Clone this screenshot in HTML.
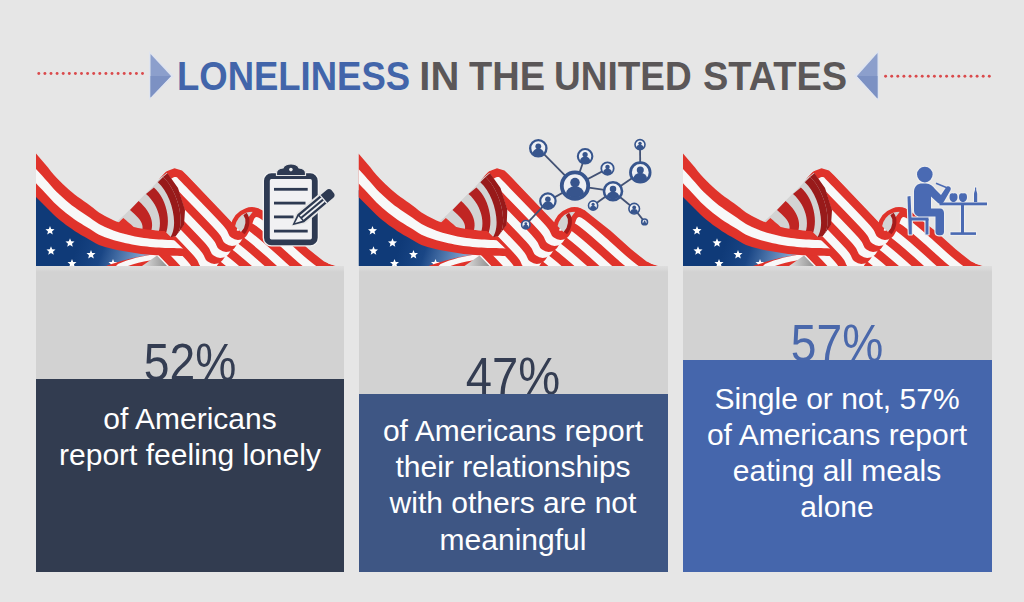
<!DOCTYPE html>
<html><head><meta charset="utf-8">
<style>
html,body{margin:0;padding:0;}
body{width:1024px;height:602px;background:#e6e6e6;position:relative;overflow:hidden;font-family:"Liberation Sans",sans-serif;}
.abs{position:absolute;}
.w{position:absolute;top:56px;font-size:40px;font-weight:bold;line-height:40px;white-space:nowrap;transform-origin:0 0;}
.gray{position:absolute;top:266px;height:306px;background:linear-gradient(#dddddd 0px,#d9d9d9 3px,#d2d2d2 6px,#d2d2d2 100%);}
.box{position:absolute;bottom:30px;}
.pct{position:absolute;font-size:51px;line-height:51px;white-space:nowrap;transform-origin:50% 0;text-align:center;width:200px;}
.txt{position:absolute;color:#fff;font-size:30px;line-height:36px;text-align:center;white-space:nowrap;width:320px;}
svg{position:absolute;overflow:visible;}
</style></head><body>

<!-- title dots and arrows -->
<svg class="abs" style="left:0;top:0" width="1024" height="120">
  <g fill="#da4a4c">
    <circle cx="38.8" cy="73.5" r="1.45"/><circle cx="44.9" cy="73.5" r="1.45"/><circle cx="51" cy="73.5" r="1.45"/><circle cx="57.1" cy="73.5" r="1.45"/><circle cx="63.2" cy="73.5" r="1.45"/><circle cx="69.3" cy="73.5" r="1.45"/><circle cx="75.4" cy="73.5" r="1.45"/><circle cx="81.5" cy="73.5" r="1.45"/><circle cx="87.6" cy="73.5" r="1.45"/><circle cx="93.7" cy="73.5" r="1.45"/><circle cx="99.8" cy="73.5" r="1.45"/><circle cx="105.9" cy="73.5" r="1.45"/><circle cx="112" cy="73.5" r="1.45"/><circle cx="118.1" cy="73.5" r="1.45"/><circle cx="124.2" cy="73.5" r="1.45"/><circle cx="130.3" cy="73.5" r="1.45"/><circle cx="136.4" cy="73.5" r="1.45"/><circle cx="142.5" cy="73.5" r="1.45"/>
    <circle cx="885.6" cy="76.2" r="1.45"/><circle cx="891.7" cy="76.2" r="1.45"/><circle cx="897.8" cy="76.2" r="1.45"/><circle cx="903.9" cy="76.2" r="1.45"/><circle cx="910" cy="76.2" r="1.45"/><circle cx="916.1" cy="76.2" r="1.45"/><circle cx="922.2" cy="76.2" r="1.45"/><circle cx="928.3" cy="76.2" r="1.45"/><circle cx="934.4" cy="76.2" r="1.45"/><circle cx="940.5" cy="76.2" r="1.45"/><circle cx="946.6" cy="76.2" r="1.45"/><circle cx="952.7" cy="76.2" r="1.45"/><circle cx="958.8" cy="76.2" r="1.45"/><circle cx="964.9" cy="76.2" r="1.45"/><circle cx="971" cy="76.2" r="1.45"/><circle cx="977.1" cy="76.2" r="1.45"/><circle cx="983.2" cy="76.2" r="1.45"/><circle cx="989.3" cy="76.2" r="1.45"/>
  </g>
  <polygon points="149,51 174,76 149,100" fill="#dfe4ef"/>
  <polygon points="150.5,54 171,76 150.5,97.5" fill="#8c9fcc"/>
  <polygon points="150.5,76 171,76 150.5,97.5" fill="#7c91c3"/>
  <polygon points="879,50 854,76 879,101" fill="#dfe4ef"/>
  <polygon points="877.5,53 857,76 877.5,98.5" fill="#8c9fcc"/>
  <polygon points="877.5,76 857,76 877.5,98.5" fill="#7c91c3"/>
</svg>

<div class="w" style="left:176.9px;color:#4265aa;transform:scaleX(0.912)">LONELINESS</div>
<div class="w" style="left:419.3px;color:#5b5758;">IN</div>
<div class="w" style="left:469.1px;color:#5b5758;transform:scaleX(0.95)">THE</div>
<div class="w" style="left:554px;color:#5b5758;transform:scaleX(0.924)">UNITED</div>
<div class="w" style="left:702.7px;color:#5b5758;transform:scaleX(0.949)">STATES</div>

<!-- cards -->
<div class="gray" style="left:36px;width:308px;"></div>
<div class="gray" style="left:358.5px;width:309.5px;"></div>
<div class="gray" style="left:683px;width:308.5px;"></div>

<!-- FLAGS -->
<svg style="left:0;top:0" width="1024" height="270"><defs>
<linearGradient id="cantonG" gradientUnits="userSpaceOnUse" x1="45" y1="235" x2="125" y2="262">
<stop offset="0" stop-color="#0f3a78"/><stop offset="0.3" stop-color="#1a4685"/><stop offset="0.7" stop-color="#6f95c4"/><stop offset="1" stop-color="#c9d7e8"/>
</linearGradient>
<linearGradient id="shadeG" x1="0" y1="0" x2="1" y2="0"><stop offset="0" stop-color="#e0e0e0"/><stop offset="1" stop-color="#909090"/></linearGradient>
<pattern id="patC" patternUnits="userSpaceOnUse" width="40" height="16.5" patternTransform="translate(145,172) rotate(46)">
<rect x="0" y="0" width="40" height="16.5" fill="#f8f8f8"/><rect x="0" y="0" width="40" height="8" fill="#e0332b"/>
</pattern>
<pattern id="patD" patternUnits="userSpaceOnUse" width="40" height="17" patternTransform="translate(220,207.6) rotate(34)">
<rect x="0" y="0" width="40" height="17" fill="#f8f8f8"/><rect x="0" y="0" width="40" height="8.5" fill="#e0332b"/>
</pattern>
<clipPath id="fclip"><rect x="0" y="140" width="310" height="126"/></clipPath>
<g id="flag">
<path d="M0,190 L0,266 L160,266 L160,250 L104,252 L80,246 L40,223 Z" fill="url(#cantonG)"/>
<polygon points="14.0,226.0 15.2,229.0 18.5,229.2 16.0,231.4 16.8,234.5 14.0,232.8 11.2,234.5 12.0,231.4 9.5,229.2 12.8,229.0" fill="#fff"/>
<polygon points="34.0,238.3 35.2,241.3 38.5,241.5 36.0,243.7 36.8,246.8 34.0,245.1 31.2,246.8 32.0,243.7 29.5,241.5 32.8,241.3" fill="#fff"/>
<polygon points="15.0,246.3 16.2,249.3 19.5,249.5 17.0,251.7 17.8,254.8 15.0,253.1 12.2,254.8 13.0,251.7 10.5,249.5 13.8,249.3" fill="#fff"/>
<polygon points="55.0,249.9 56.2,252.9 59.5,253.1 57.0,255.3 57.8,258.4 55.0,256.7 52.2,258.4 53.0,255.3 50.5,253.1 53.8,252.9" fill="#fff"/>
<polygon points="36.0,258.9 37.2,261.9 40.5,262.1 38.0,264.3 38.8,267.4 36.0,265.7 33.2,267.4 34.0,264.3 31.5,262.1 34.8,261.9" fill="#fff"/>
<polygon points="77.0,258.9 78.2,261.9 81.5,262.1 79.0,264.3 79.8,267.4 77.0,265.7 74.2,267.4 75.0,264.3 72.5,262.1 75.8,261.9" fill="#fff"/>
<path d="M70,266 C90,259 110,254 140,252 L145,266 Z" fill="#e0332b"/>
<path d="M82,264 C98,257 115,254 140,252 L140,258 C120,259 106,261 92,266 L80,266 Z" fill="#f8f8f8"/>
<clipPath id="cCD"><path d="M119.0,186.0 L124.0,178.0 L130.0,171.5 L138.5,168.3 L146.0,170.5 L151.0,175.2 L196.0,222.5 L199.0,218.0 L204.0,213.0 L211.0,209.0 L219.0,207.6 L226.0,210.0 L234.0,216.5 L252.1,230.7 L272.7,249.3 L288.1,261.6 L298.5,265.7 L306.0,267.5 L340.0,268.0 L340.0,275.0 L126.0,275.0 L120.0,254.0 L104.0,234.0 L119.0,200.0 Z"/></clipPath>
<g clip-path="url(#cCD)">
<path d="M45.3,267.0 C46.1,265.7 48.6,261.2 50.3,259.0 C52.0,256.8 53.4,254.9 55.3,253.5 C57.2,252.1 59.8,250.6 61.8,250.3 C63.8,250.1 65.7,251.0 67.3,252.0 C68.9,253.0 63.6,248.2 71.3,256.2 C79.0,264.2 105.0,290.7 113.3,300.0 C121.6,309.3 118.6,310.0 121.3,312.0 C124.0,314.0 127.1,313.5 129.3,312.0 C131.5,310.5 132.8,306.1 134.3,303.0 C135.8,299.9 136.6,295.6 138.3,293.5 C140.0,291.4 142.0,290.3 144.3,290.5 C146.6,290.7 147.5,290.9 152.3,294.5 C157.1,298.1 166.5,306.1 173.3,312.0 C180.1,317.9 187.3,324.9 193.3,330.0 C199.3,335.1 204.6,339.6 209.3,342.5 C214.0,345.4 212.3,346.2 221.3,347.5 C230.3,348.8 256.3,349.6 263.3,350.0" fill="none" stroke="#f8f8f8" stroke-width="9.0" stroke-linejoin="round"/>
<path d="M51.2,261.0 C52.0,259.7 54.5,255.2 56.2,253.0 C57.9,250.8 59.3,248.9 61.2,247.5 C63.1,246.1 65.7,244.6 67.7,244.3 C69.7,244.1 71.6,245.0 73.2,246.0 C74.8,247.0 69.5,242.2 77.2,250.2 C84.9,258.2 110.9,284.7 119.2,294.0 C127.5,303.3 124.5,304.0 127.2,306.0 C129.9,308.0 133.0,307.5 135.2,306.0 C137.4,304.5 138.7,300.1 140.2,297.0 C141.7,293.9 142.5,289.6 144.2,287.5 C145.9,285.4 147.9,284.3 150.2,284.5 C152.5,284.7 153.4,284.9 158.2,288.5 C163.0,292.1 172.4,300.1 179.2,306.0 C186.0,311.9 193.2,318.9 199.2,324.0 C205.2,329.1 210.5,333.6 215.2,336.5 C219.9,339.4 218.2,340.2 227.2,341.5 C236.2,342.8 262.2,343.6 269.2,344.0" fill="none" stroke="#e0332b" stroke-width="9.0" stroke-linejoin="round"/>
<path d="M57.1,255.0 C57.9,253.7 60.4,249.2 62.1,247.0 C63.8,244.8 65.2,242.9 67.1,241.5 C69.0,240.1 71.6,238.6 73.6,238.3 C75.6,238.1 77.5,239.0 79.1,240.0 C80.7,241.0 75.4,236.2 83.1,244.2 C90.8,252.2 116.8,278.7 125.1,288.0 C133.4,297.3 130.4,298.0 133.1,300.0 C135.8,302.0 138.9,301.5 141.1,300.0 C143.3,298.5 144.6,294.1 146.1,291.0 C147.6,287.9 148.4,283.6 150.1,281.5 C151.8,279.4 153.8,278.3 156.1,278.5 C158.4,278.7 159.3,278.9 164.1,282.5 C168.9,286.1 178.3,294.1 185.1,300.0 C191.9,305.9 199.1,312.9 205.1,318.0 C211.1,323.1 216.4,327.6 221.1,330.5 C225.8,333.4 224.1,334.2 233.1,335.5 C242.1,336.8 268.1,337.6 275.1,338.0" fill="none" stroke="#f8f8f8" stroke-width="9.0" stroke-linejoin="round"/>
<path d="M63.0,249.0 C63.8,247.7 66.3,243.2 68.0,241.0 C69.7,238.8 71.1,236.9 73.0,235.5 C74.9,234.1 77.5,232.6 79.5,232.3 C81.5,232.1 83.4,233.0 85.0,234.0 C86.6,235.0 81.3,230.2 89.0,238.2 C96.7,246.2 122.7,272.7 131.0,282.0 C139.3,291.3 136.3,292.0 139.0,294.0 C141.7,296.0 144.8,295.5 147.0,294.0 C149.2,292.5 150.5,288.1 152.0,285.0 C153.5,281.9 154.3,277.6 156.0,275.5 C157.7,273.4 159.7,272.3 162.0,272.5 C164.3,272.7 165.2,272.9 170.0,276.5 C174.8,280.1 184.2,288.1 191.0,294.0 C197.8,299.9 205.0,306.9 211.0,312.0 C217.0,317.1 222.3,321.6 227.0,324.5 C231.7,327.4 230.0,328.2 239.0,329.5 C248.0,330.8 274.0,331.6 281.0,332.0" fill="none" stroke="#e0332b" stroke-width="9.0" stroke-linejoin="round"/>
<path d="M68.9,243.0 C69.7,241.7 72.2,237.2 73.9,235.0 C75.6,232.8 77.0,230.9 78.9,229.5 C80.8,228.1 83.4,226.6 85.4,226.3 C87.4,226.1 89.3,227.0 90.9,228.0 C92.5,229.0 87.2,224.2 94.9,232.2 C102.6,240.2 128.6,266.7 136.9,276.0 C145.2,285.3 142.2,286.0 144.9,288.0 C147.6,290.0 150.7,289.5 152.9,288.0 C155.1,286.5 156.4,282.1 157.9,279.0 C159.4,275.9 160.2,271.6 161.9,269.5 C163.6,267.4 165.6,266.3 167.9,266.5 C170.2,266.7 171.1,266.9 175.9,270.5 C180.7,274.1 190.1,282.1 196.9,288.0 C203.7,293.9 210.9,300.9 216.9,306.0 C222.9,311.1 228.2,315.6 232.9,318.5 C237.6,321.4 235.9,322.2 244.9,323.5 C253.9,324.8 279.9,325.6 286.9,326.0" fill="none" stroke="#f8f8f8" stroke-width="9.0" stroke-linejoin="round"/>
<path d="M74.8,237.0 C75.6,235.7 78.1,231.2 79.8,229.0 C81.5,226.8 82.9,224.9 84.8,223.5 C86.7,222.1 89.3,220.6 91.3,220.3 C93.3,220.1 95.2,221.0 96.8,222.0 C98.4,223.0 93.1,218.2 100.8,226.2 C108.5,234.2 134.5,260.7 142.8,270.0 C151.1,279.3 148.1,280.0 150.8,282.0 C153.5,284.0 156.6,283.5 158.8,282.0 C161.0,280.5 162.3,276.1 163.8,273.0 C165.3,269.9 166.1,265.6 167.8,263.5 C169.5,261.4 171.5,260.3 173.8,260.5 C176.1,260.7 177.0,260.9 181.8,264.5 C186.6,268.1 196.0,276.1 202.8,282.0 C209.6,287.9 216.8,294.9 222.8,300.0 C228.8,305.1 234.1,309.6 238.8,312.5 C243.5,315.4 241.8,316.2 250.8,317.5 C259.8,318.8 285.8,319.6 292.8,320.0" fill="none" stroke="#e0332b" stroke-width="9.0" stroke-linejoin="round"/>
<path d="M80.7,231.0 C81.5,229.7 84.0,225.2 85.7,223.0 C87.4,220.8 88.8,218.9 90.7,217.5 C92.6,216.1 95.2,214.6 97.2,214.3 C99.2,214.1 101.1,215.0 102.7,216.0 C104.3,217.0 99.0,212.2 106.7,220.2 C114.4,228.2 140.4,254.7 148.7,264.0 C157.0,273.3 154.0,274.0 156.7,276.0 C159.4,278.0 162.5,277.5 164.7,276.0 C166.9,274.5 168.2,270.1 169.7,267.0 C171.2,263.9 172.0,259.6 173.7,257.5 C175.4,255.4 177.4,254.3 179.7,254.5 C182.0,254.7 182.9,254.9 187.7,258.5 C192.5,262.1 201.9,270.1 208.7,276.0 C215.5,281.9 222.7,288.9 228.7,294.0 C234.7,299.1 240.0,303.6 244.7,306.5 C249.4,309.4 247.7,310.2 256.7,311.5 C265.7,312.8 291.7,313.6 298.7,314.0" fill="none" stroke="#f8f8f8" stroke-width="9.0" stroke-linejoin="round"/>
<path d="M86.6,225.0 C87.4,223.7 89.9,219.2 91.6,217.0 C93.3,214.8 94.7,212.9 96.6,211.5 C98.5,210.1 101.1,208.6 103.1,208.3 C105.1,208.1 107.0,209.0 108.6,210.0 C110.2,211.0 104.9,206.2 112.6,214.2 C120.3,222.2 146.3,248.7 154.6,258.0 C162.9,267.3 159.9,268.0 162.6,270.0 C165.3,272.0 168.4,271.5 170.6,270.0 C172.8,268.5 174.1,264.1 175.6,261.0 C177.1,257.9 177.9,253.6 179.6,251.5 C181.3,249.4 183.3,248.3 185.6,248.5 C187.9,248.7 188.8,248.9 193.6,252.5 C198.4,256.1 207.8,264.1 214.6,270.0 C221.4,275.9 228.6,282.9 234.6,288.0 C240.6,293.1 245.9,297.6 250.6,300.5 C255.3,303.4 253.6,304.2 262.6,305.5 C271.6,306.8 297.6,307.6 304.6,308.0" fill="none" stroke="#e0332b" stroke-width="9.0" stroke-linejoin="round"/>
<path d="M92.5,219.0 C93.3,217.7 95.8,213.2 97.5,211.0 C99.2,208.8 100.6,206.9 102.5,205.5 C104.4,204.1 107.0,202.6 109.0,202.3 C111.0,202.1 112.9,203.0 114.5,204.0 C116.1,205.0 110.8,200.2 118.5,208.2 C126.2,216.2 152.2,242.7 160.5,252.0 C168.8,261.3 165.8,262.0 168.5,264.0 C171.2,266.0 174.3,265.5 176.5,264.0 C178.7,262.5 180.0,258.1 181.5,255.0 C183.0,251.9 183.8,247.6 185.5,245.5 C187.2,243.4 189.2,242.3 191.5,242.5 C193.8,242.7 194.7,242.9 199.5,246.5 C204.3,250.1 213.7,258.1 220.5,264.0 C227.3,269.9 234.5,276.9 240.5,282.0 C246.5,287.1 251.8,291.6 256.5,294.5 C261.2,297.4 259.5,298.2 268.5,299.5 C277.5,300.8 303.5,301.6 310.5,302.0" fill="none" stroke="#f8f8f8" stroke-width="9.0" stroke-linejoin="round"/>
<path d="M98.4,213.0 C99.2,211.7 101.7,207.2 103.4,205.0 C105.1,202.8 106.5,200.9 108.4,199.5 C110.3,198.1 112.9,196.6 114.9,196.3 C116.9,196.1 118.8,197.0 120.4,198.0 C122.0,199.0 116.7,194.2 124.4,202.2 C132.1,210.2 158.1,236.7 166.4,246.0 C174.7,255.3 171.7,256.0 174.4,258.0 C177.1,260.0 180.2,259.5 182.4,258.0 C184.6,256.5 185.9,252.1 187.4,249.0 C188.9,245.9 189.7,241.6 191.4,239.5 C193.1,237.4 195.1,236.3 197.4,236.5 C199.7,236.7 200.6,236.9 205.4,240.5 C210.2,244.1 219.6,252.1 226.4,258.0 C233.2,263.9 240.4,270.9 246.4,276.0 C252.4,281.1 257.7,285.6 262.4,288.5 C267.1,291.4 265.4,292.2 274.4,293.5 C283.4,294.8 309.4,295.6 316.4,296.0" fill="none" stroke="#e0332b" stroke-width="9.0" stroke-linejoin="round"/>
<path d="M104.3,207.0 C105.1,205.7 107.6,201.2 109.3,199.0 C111.0,196.8 112.4,194.9 114.3,193.5 C116.2,192.1 118.8,190.6 120.8,190.3 C122.8,190.1 124.7,191.0 126.3,192.0 C127.9,193.0 122.6,188.2 130.3,196.2 C138.0,204.2 164.0,230.7 172.3,240.0 C180.6,249.3 177.6,250.0 180.3,252.0 C183.0,254.0 186.1,253.5 188.3,252.0 C190.5,250.5 191.8,246.1 193.3,243.0 C194.8,239.9 195.6,235.6 197.3,233.5 C199.0,231.4 201.0,230.3 203.3,230.5 C205.6,230.7 206.5,230.9 211.3,234.5 C216.1,238.1 225.5,246.1 232.3,252.0 C239.1,257.9 246.3,264.9 252.3,270.0 C258.3,275.1 263.6,279.6 268.3,282.5 C273.0,285.4 271.3,286.2 280.3,287.5 C289.3,288.8 315.3,289.6 322.3,290.0" fill="none" stroke="#f8f8f8" stroke-width="9.0" stroke-linejoin="round"/>
<path d="M110.2,201.0 C111.0,199.7 113.5,195.2 115.2,193.0 C116.9,190.8 118.3,188.9 120.2,187.5 C122.1,186.1 124.7,184.6 126.7,184.3 C128.7,184.1 130.6,185.0 132.2,186.0 C133.8,187.0 128.5,182.2 136.2,190.2 C143.9,198.2 169.9,224.7 178.2,234.0 C186.5,243.3 183.5,244.0 186.2,246.0 C188.9,248.0 192.0,247.5 194.2,246.0 C196.4,244.5 197.7,240.1 199.2,237.0 C200.7,233.9 201.5,229.6 203.2,227.5 C204.9,225.4 206.9,224.3 209.2,224.5 C211.5,224.7 212.4,224.9 217.2,228.5 C222.0,232.1 231.4,240.1 238.2,246.0 C245.0,251.9 252.2,258.9 258.2,264.0 C264.2,269.1 269.5,273.6 274.2,276.5 C278.9,279.4 277.2,280.2 286.2,281.5 C295.2,282.8 321.2,283.6 328.2,284.0" fill="none" stroke="#e0332b" stroke-width="9.0" stroke-linejoin="round"/>
<path d="M116.1,195.0 C116.9,193.7 119.4,189.2 121.1,187.0 C122.8,184.8 124.2,182.9 126.1,181.5 C128.0,180.1 130.6,178.6 132.6,178.3 C134.6,178.1 136.5,179.0 138.1,180.0 C139.7,181.0 134.4,176.2 142.1,184.2 C149.8,192.2 175.8,218.7 184.1,228.0 C192.4,237.3 189.4,238.0 192.1,240.0 C194.8,242.0 197.9,241.5 200.1,240.0 C202.3,238.5 203.6,234.1 205.1,231.0 C206.6,227.9 207.4,223.6 209.1,221.5 C210.8,219.4 212.8,218.3 215.1,218.5 C217.4,218.7 218.3,218.9 223.1,222.5 C227.9,226.1 237.3,234.1 244.1,240.0 C250.9,245.9 258.1,252.9 264.1,258.0 C270.1,263.1 275.4,267.6 280.1,270.5 C284.8,273.4 283.1,274.2 292.1,275.5 C301.1,276.8 327.1,277.6 334.1,278.0" fill="none" stroke="#f8f8f8" stroke-width="9.0" stroke-linejoin="round"/>
<path d="M122.0,189.0 C122.8,187.7 125.3,183.2 127.0,181.0 C128.7,178.8 130.1,176.9 132.0,175.5 C133.9,174.1 136.5,172.6 138.5,172.3 C140.5,172.1 142.4,173.0 144.0,174.0 C145.6,175.0 140.3,170.2 148.0,178.2 C155.7,186.2 181.7,212.7 190.0,222.0 C198.3,231.3 195.3,232.0 198.0,234.0 C200.7,236.0 203.8,235.5 206.0,234.0 C208.2,232.5 209.5,228.1 211.0,225.0 C212.5,221.9 213.3,217.6 215.0,215.5 C216.7,213.4 218.7,212.3 221.0,212.5 C223.3,212.7 224.2,212.9 229.0,216.5 C233.8,220.1 243.2,228.1 250.0,234.0 C256.8,239.9 264.0,246.9 270.0,252.0 C276.0,257.1 281.3,261.6 286.0,264.5 C290.7,267.4 289.0,268.2 298.0,269.5 C307.0,270.8 333.0,271.6 340.0,272.0" fill="none" stroke="#e0332b" stroke-width="9.0" stroke-linejoin="round"/>
</g>
<path d="M106,266 L121,255.5 L131,266 Z" fill="url(#shadeG)"/>
<clipPath id="rollC"><path d="M80.0,222.0 L88.0,215.0 L98.0,205.0 L106.0,197.0 L114.0,189.0 L120.0,183.0 L124.0,178.0 L131.0,172.5 L142.0,188.0 L149.0,210.0 L148.0,225.0 L140.0,236.0 L124.0,240.0 L104.0,238.0 L92.0,232.0 Z"/></clipPath>
<g clip-path="url(#rollC)">
<path d="M80.0,222.0 L88.0,215.0 L98.0,205.0 L106.0,197.0 L114.0,189.0 L120.0,183.0 L124.0,178.0 L131.0,172.5 L142.0,188.0 L149.0,210.0 L148.0,225.0 L140.0,236.0 L124.0,240.0 L104.0,238.0 L92.0,232.0 Z" fill="#d3d3d3"/>
<path d="M80.0,225.0 C94.0,237.0 95.0,228.0 84.0,240.0 L91.0,240.0 C102.0,228.0 101.3,230.0 87.3,218.0 Z" fill="#e0332b"/>
<path d="M94.0,210.0 C108.0,222.0 111.0,228.0 100.0,240.0 L110.0,240.0 C121.0,228.0 116.6,213.0 102.6,201.0 Z" fill="#c02523"/>
<path d="M110.0,194.0 C124.0,206.0 129.0,228.0 118.0,240.0 L126.0,240.0 C137.0,228.0 131.9,199.6 117.9,187.6 Z" fill="#b02020"/>
<path d="M121.8,182.3 C135.8,194.3 144.0,227.0 133.0,239.0 L140.0,236.0 C151.0,224.0 141.0,189.0 127.0,177.0 Z" fill="#981a1a"/>
<path d="M127.0,177.0 C141.0,189.0 151.0,224.0 140.0,236.0 L150.0,226.0 C161.0,214.0 148.0,183.0 134.0,171.0 Z" fill="#981a1a"/>
</g>
<clipPath id="cA"><path d="M-5,140 L190,140 L112,215 L165,266 L-5,270 Z"/></clipPath>
<g clip-path="url(#cA)">
<path d="M0.0,153.5 L3.0,157.0 L6.0,160.5 L9.0,164.0 L12.0,167.6 L15.0,171.4 L18.0,175.0 L21.0,178.3 L24.0,181.3 L27.0,184.2 L30.0,187.0 L33.0,189.7 L36.0,192.3 L39.0,194.7 L42.0,197.0 L45.0,199.1 L48.0,201.2 L51.0,203.3 L54.0,205.5 L57.0,207.8 L60.0,210.2 L63.0,212.4 L66.0,214.2 L69.0,216.0 L72.0,217.6 L75.0,219.1 L78.0,220.5 L81.0,221.8 L84.0,222.8 L87.0,223.8 L90.0,224.8 L93.0,225.7 L96.0,226.5 L99.0,227.3 L102.0,227.9 L105.0,228.5 L108.0,229.0 L111.0,229.4 L114.0,229.8 L117.0,230.1 L120.0,230.5 L123.0,230.7 L126.0,230.9 L129.0,231.1 L132.0,231.3 L135.0,231.4 L138.0,231.6 L141.0,231.7 L144.0,231.8 L147.0,231.9 L150.0,232.0 L153.0,232.1 L156.0,232.2 L159.0,232.3 L159.0,256.2 L156.0,256.1 L153.0,256.1 L150.0,256.0 L147.0,255.9 L144.0,255.9 L141.0,255.8 L138.0,255.8 L135.0,255.7 L132.0,255.6 L129.0,255.6 L126.0,255.5 L123.0,255.3 L120.0,255.2 L117.0,255.0 L114.0,254.8 L111.0,254.6 L108.0,254.3 L105.0,254.0 L102.0,253.6 L99.0,253.1 L96.0,252.6 L93.0,252.1 L90.0,251.6 L87.0,251.1 L84.0,250.5 L81.0,249.9 L78.0,249.3 L75.0,248.6 L72.0,247.8 L69.0,247.0 L66.0,246.1 L63.0,245.0 L60.0,243.5 L57.0,241.8 L54.0,240.0 L51.0,238.3 L48.0,236.6 L45.0,234.9 L42.0,233.1 L39.0,231.2 L36.0,229.1 L33.0,227.1 L30.0,224.9 L27.0,222.6 L24.0,220.2 L21.0,217.7 L18.0,215.0 L15.0,212.1 L12.0,209.0 L9.0,206.0 L6.0,203.0 L3.0,200.0 L0.0,197.0 Z" fill="#e0332b"/>
<path d="M0.0,168.9 L3.0,172.3 L6.0,175.6 L9.0,178.9 L12.0,182.3 L15.0,185.8 L18.0,189.2 L21.0,192.2 L24.0,195.1 L27.0,197.8 L30.0,200.5 L33.0,203.0 L36.0,205.4 L39.0,207.6 L42.0,209.8 L45.0,211.8 L48.0,213.8 L51.0,215.8 L54.0,217.7 L57.0,219.9 L60.0,222.0 L63.0,224.0 L66.0,225.5 L69.0,227.0 L72.0,228.3 L75.0,229.6 L78.0,230.7 L81.0,231.8 L84.0,232.7 L87.0,233.5 L90.0,234.3 L93.0,235.1 L96.0,235.8 L99.0,236.4 L102.0,237.0 L105.0,237.6 L108.0,238.0 L111.0,238.3 L114.0,238.7 L117.0,239.0 L120.0,239.2 L123.0,239.5 L126.0,239.6 L129.0,239.8 L132.0,239.9 L135.0,240.0 L138.0,240.2 L141.0,240.3 L144.0,240.3 L147.0,240.4 L150.0,240.5 L153.0,240.6 L156.0,240.7 L159.0,240.8 L159.0,248.6 L156.0,248.6 L153.0,248.5 L150.0,248.4 L147.0,248.4 L144.0,248.3 L141.0,248.2 L138.0,248.1 L135.0,248.1 L132.0,248.0 L129.0,247.9 L126.0,247.7 L123.0,247.6 L120.0,247.4 L117.0,247.2 L114.0,246.9 L111.0,246.6 L108.0,246.3 L105.0,246.0 L102.0,245.5 L99.0,245.0 L96.0,244.4 L93.0,243.8 L90.0,243.2 L87.0,242.5 L84.0,241.8 L81.0,241.1 L78.0,240.2 L75.0,239.3 L72.0,238.3 L69.0,237.2 L66.0,236.0 L63.0,234.7 L60.0,233.0 L57.0,231.1 L54.0,229.1 L51.0,227.3 L48.0,225.5 L45.0,223.6 L42.0,221.7 L39.0,219.7 L36.0,217.5 L33.0,215.3 L30.0,212.9 L27.0,210.5 L24.0,207.9 L21.0,205.2 L18.0,202.4 L15.0,199.2 L12.0,196.0 L9.0,192.8 L6.0,189.6 L3.0,186.5 L0.0,183.3 Z" fill="#f8f8f8"/>
</g>
<path d="M198.0,225.0 L201.0,218.0 L206.0,213.5 L213.0,211.0 L217.0,211.5 L212.0,218.0 L209.5,227.0 L205.0,232.0 Z" fill="#d3d3d3"/>
<path d="M209,214 C213,219 212,227 207,233" stroke="#a51c1c" stroke-width="4" fill="none"/>
<path d="M196.5,227 C198,219 203,213 210,210.5 C214,209 218,209 222,210.5" stroke="#e0332b" stroke-width="4.5" fill="none" stroke-linecap="round"/>
</g></defs><g transform="translate(36,0)"><g clip-path="url(#fclip)"><use href="#flag"/></g></g><g transform="translate(358.5,0)"><g clip-path="url(#fclip)"><use href="#flag"/></g></g><g transform="translate(683,0)"><g clip-path="url(#fclip)"><use href="#flag"/></g></g></svg>
<!-- /FLAGS -->

<!-- percentages -->
<div class="pct" style="left:90px;top:337px;color:#343d52;transform:scaleX(0.907)">52%</div>
<div class="pct" style="left:413px;top:351px;color:#343d52;transform:scaleX(0.925)">47%</div>
<div class="pct" style="left:736.5px;top:317.5px;color:#4a68ab;transform:scaleX(0.905)">57%</div>

<div class="box" style="left:36px;width:308px;top:379px;background:#323c50;"></div>
<div class="box" style="left:358.5px;width:309.5px;top:394px;background:#3e5684;"></div>
<div class="box" style="left:683px;width:308.5px;top:360px;background:#4566ac;"></div>

<div class="txt" style="left:30px;top:400.5px;">of Americans<br>report feeling lonely</div>
<div class="txt" style="left:353px;top:412.5px;line-height:36.4px;">of Americans report<br>their relationships<br>with others are not<br>meaningful</div>
<div class="txt" style="left:677px;top:381px;">Single or not, 57%<br>of Americans report<br>eating all meals<br>alone</div>

<!-- ICONS -->
<svg style="left:0;top:0" width="1024" height="270">
<g id="clipboard">
<rect x="266.9" y="176.2" width="47.9" height="66.1" rx="4.5" fill="#f1f1f3" stroke="#f1f1f1" stroke-width="8.6"/>
<rect x="266.9" y="176.2" width="47.9" height="66.1" rx="4.5" fill="#f1f1f3" stroke="#2e3a52" stroke-width="5.8"/>
<path d="M276.5,175.5 L276.5,173 C276.5,170 279.5,168.5 283,168 C284,165.5 287,164 291,164 C295,164 298,165.5 299,168 C302.5,168.5 305.5,170 305.5,173 L305.5,175.5 Z" fill="#2e3a52" stroke="#e6e6e6" stroke-width="1.2"/>
<circle cx="290.9" cy="169.6" r="1.8" fill="#eeeeee"/>
<g fill="#2e3a52">
<rect x="274" y="187.9" width="33.7" height="2.8"/>
<rect x="274" y="201.7" width="31.5" height="2.8"/>
<rect x="274" y="215.5" width="19.5" height="2.8"/>
<rect x="274" y="229.7" width="33.7" height="2.8"/>
</g>
<g transform="translate(292.4,225.3) rotate(-39.9)">
<path d="M-1.5,0 L11,-7 L51,-7 C53,-7 54,-5 54,-3 L54,3 C54,5 53,7 51,7 L11,7 Z" fill="#e6e6e6"/>
<path d="M0,0 L11,-5.2 L49,-5.2 C51,-5.2 52.5,-3.5 52.5,-2 L52.5,2 C52.5,3.5 51,5.2 49,5.2 L11,5.2 Z" fill="#2e3a52"/>
<path d="M3.5,0 L10.5,-3 L10.5,3 Z" fill="#f1f2f4"/>
<rect x="12" y="-2.9" width="28" height="1.9" fill="#f1f2f4"/>
<rect x="12" y="1" width="28" height="1.9" fill="#f1f2f4"/>
<rect x="40" y="-5.2" width="1.2" height="10.4" fill="#f1f2f4"/>
</g>
</g>
</svg>
<svg style="left:0;top:0" width="1024" height="270"><g id="network">
<line x1="538.3" y1="148.3" x2="575.0" y2="185.7" stroke="#435274" stroke-width="1.8"/>
<line x1="585.1" y1="156.3" x2="575.0" y2="185.7" stroke="#435274" stroke-width="1.8"/>
<line x1="607.5" y1="168.6" x2="575.0" y2="185.7" stroke="#435274" stroke-width="1.8"/>
<line x1="575.0" y1="185.7" x2="547.9" y2="201.1" stroke="#435274" stroke-width="1.8"/>
<line x1="547.9" y1="201.1" x2="525.8" y2="224.7" stroke="#435274" stroke-width="1.8"/>
<line x1="575.0" y1="185.7" x2="613.0" y2="191.2" stroke="#435274" stroke-width="1.8"/>
<line x1="613.0" y1="191.2" x2="640.3" y2="172.4" stroke="#435274" stroke-width="1.8"/>
<line x1="640.3" y1="172.4" x2="640.0" y2="144.6" stroke="#435274" stroke-width="1.8"/>
<line x1="613.0" y1="191.2" x2="593.1" y2="205.5" stroke="#435274" stroke-width="1.8"/>
<line x1="613.0" y1="191.2" x2="634.2" y2="208.7" stroke="#435274" stroke-width="1.8"/>
<line x1="634.2" y1="208.7" x2="644.6" y2="221.9" stroke="#435274" stroke-width="1.8"/>
<circle cx="538.3" cy="148.3" r="7.58" fill="#eef0f4"/>
<circle cx="538.3" cy="146.35" r="2.93" fill="#37558d"/>
<clipPath id="ncA"><circle cx="538.3" cy="148.3" r="7.58"/></clipPath>
<ellipse clip-path="url(#ncA)" cx="538.3" cy="153.32" rx="5.58" ry="4.74" fill="#37558d"/>
<circle cx="538.3" cy="148.3" r="8.14" fill="none" stroke="#37558d" stroke-width="2.33"/>
<circle cx="585.1" cy="156.3" r="6.83" fill="#eef0f4"/>
<circle cx="585.1" cy="154.56" r="2.61" fill="#37558d"/>
<clipPath id="ncB"><circle cx="585.1" cy="156.3" r="6.83"/></clipPath>
<ellipse clip-path="url(#ncB)" cx="585.1" cy="160.78" rx="4.98" ry="4.23" fill="#37558d"/>
<circle cx="585.1" cy="156.3" r="7.26" fill="none" stroke="#37558d" stroke-width="2.08"/>
<circle cx="607.5" cy="168.6" r="5.92" fill="#eef0f4"/>
<circle cx="607.5" cy="167.11" r="2.24" fill="#37558d"/>
<clipPath id="ncC"><circle cx="607.5" cy="168.6" r="5.92"/></clipPath>
<ellipse clip-path="url(#ncC)" cx="607.5" cy="172.43" rx="4.26" ry="3.62" fill="#37558d"/>
<circle cx="607.5" cy="168.6" r="6.21" fill="none" stroke="#37558d" stroke-width="1.77"/>
<circle cx="640.0" cy="144.6" r="4.80" fill="#eef0f4"/>
<circle cx="640.0" cy="143.42" r="1.76" fill="#37558d"/>
<clipPath id="ncD"><circle cx="640.0" cy="144.6" r="4.80"/></clipPath>
<ellipse clip-path="url(#ncD)" cx="640.0" cy="147.62" rx="3.36" ry="2.86" fill="#37558d"/>
<circle cx="640.0" cy="144.6" r="5.00" fill="none" stroke="#37558d" stroke-width="1.60"/>
<circle cx="640.3" cy="172.4" r="9.00" fill="#eef0f4"/>
<circle cx="640.3" cy="170.05" r="3.53" fill="#37558d"/>
<clipPath id="ncE"><circle cx="640.3" cy="172.4" r="9.00"/></clipPath>
<ellipse clip-path="url(#ncE)" cx="640.3" cy="178.45" rx="6.72" ry="5.71" fill="#37558d"/>
<circle cx="640.3" cy="172.4" r="9.80" fill="none" stroke="#37558d" stroke-width="2.80"/>
<circle cx="575.0" cy="185.7" r="11.92" fill="#eef0f4"/>
<circle cx="575.0" cy="182.53" r="4.76" fill="#37558d"/>
<clipPath id="ncF"><circle cx="575.0" cy="185.7" r="11.92"/></clipPath>
<ellipse clip-path="url(#ncF)" cx="575.0" cy="193.85" rx="9.06" ry="7.70" fill="#37558d"/>
<circle cx="575.0" cy="185.7" r="13.21" fill="none" stroke="#37558d" stroke-width="3.77"/>
<circle cx="613.0" cy="191.2" r="8.33" fill="#eef0f4"/>
<circle cx="613.0" cy="189.04" r="3.24" fill="#37558d"/>
<clipPath id="ncG"><circle cx="613.0" cy="191.2" r="8.33"/></clipPath>
<ellipse clip-path="url(#ncG)" cx="613.0" cy="196.76" rx="6.18" ry="5.25" fill="#37558d"/>
<circle cx="613.0" cy="191.2" r="9.01" fill="none" stroke="#37558d" stroke-width="2.58"/>
<circle cx="547.9" cy="201.1" r="7.20" fill="#eef0f4"/>
<circle cx="547.9" cy="199.25" r="2.77" fill="#37558d"/>
<clipPath id="ncH"><circle cx="547.9" cy="201.1" r="7.20"/></clipPath>
<ellipse clip-path="url(#ncH)" cx="547.9" cy="205.85" rx="5.28" ry="4.49" fill="#37558d"/>
<circle cx="547.9" cy="201.1" r="7.70" fill="none" stroke="#37558d" stroke-width="2.20"/>
<circle cx="593.1" cy="205.5" r="4.40" fill="#eef0f4"/>
<circle cx="593.1" cy="204.44" r="1.60" fill="#37558d"/>
<clipPath id="ncI"><circle cx="593.1" cy="205.5" r="4.40"/></clipPath>
<ellipse clip-path="url(#ncI)" cx="593.1" cy="208.24" rx="3.04" ry="2.58" fill="#37558d"/>
<circle cx="593.1" cy="205.5" r="4.60" fill="none" stroke="#37558d" stroke-width="1.60"/>
<circle cx="634.2" cy="208.7" r="5.10" fill="#eef0f4"/>
<circle cx="634.2" cy="207.44" r="1.89" fill="#37558d"/>
<clipPath id="ncJ"><circle cx="634.2" cy="208.7" r="5.10"/></clipPath>
<ellipse clip-path="url(#ncJ)" cx="634.2" cy="211.94" rx="3.60" ry="3.06" fill="#37558d"/>
<circle cx="634.2" cy="208.7" r="5.30" fill="none" stroke="#37558d" stroke-width="1.60"/>
<circle cx="644.6" cy="221.9" r="2.70" fill="#eef0f4"/>
<circle cx="644.6" cy="221.31" r="0.88" fill="#37558d"/>
<clipPath id="ncK"><circle cx="644.6" cy="221.9" r="2.70"/></clipPath>
<ellipse clip-path="url(#ncK)" cx="644.6" cy="223.41" rx="1.68" ry="1.43" fill="#37558d"/>
<circle cx="644.6" cy="221.9" r="2.90" fill="none" stroke="#37558d" stroke-width="1.60"/>
<circle cx="525.8" cy="224.7" r="4.00" fill="#eef0f4"/>
<circle cx="525.8" cy="223.75" r="1.43" fill="#37558d"/>
<clipPath id="ncL"><circle cx="525.8" cy="224.7" r="4.00"/></clipPath>
<ellipse clip-path="url(#ncL)" cx="525.8" cy="227.15" rx="2.72" ry="2.31" fill="#37558d"/>
<circle cx="525.8" cy="224.7" r="4.20" fill="none" stroke="#37558d" stroke-width="1.60"/>
</g></svg>
<svg style="left:0;top:0" width="1024" height="270"><g fill="#eeeeee" stroke="#eeeeee" stroke-width="2.2" stroke-linejoin="round">
<circle cx="924.8" cy="174.6" r="7.8"/>
<path d="M914,192 C914,186 918,183.5 922,183.5 L926,183.5 C930,183.5 933,186 935,189 L941,195 L946,187.5 C947,186 949,186 950,187 C951,188 951,189.5 950,191 L944,201.5 C942.5,204 939.5,204.5 937.5,202.5 L931,196.5 L931,208.5 L940,208.5 C942.5,208.5 944,210.5 944,213 L944,232 C944,234 942.5,235.3 940.5,235.3 L939,235.3 C937,235.3 935.5,234 935.5,232 L935.5,216.5 L920,216.5 C916.5,216.5 914,214 914,210.5 Z"/>
<path d="M936,183.3 L950,189" stroke="#eeeeee" stroke-width="1.6" fill="none"/>
<path d="M907.5,196.5 L910.5,196 L911.5,217.5 L928.5,217.5 L928.5,220.5 L911.8,220.5 L911.8,234.5 L908.8,234.5 Z"/>
<rect x="925.5" y="219" width="3" height="15.5"/>
<rect x="939.5" y="202.5" width="47.5" height="2.8"/>
<rect x="961" y="204" width="3" height="29"/>
<rect x="950.5" y="232.3" width="25.5" height="2.6"/>
<path d="M949.5,197 C949.5,193.5 951.5,192.8 953.5,193.6 C955.5,192.8 957.5,193.5 957.5,197 C957.5,200.5 955.5,202 953.5,202 C951.5,202 949.5,200.5 949.5,197 Z"/>
<path d="M959,197 C959,193.5 961,192.8 963,193.6 C965,192.8 967,193.5 967,197 C967,200.5 965,202 963,202 C961,202 959,200.5 959,197 Z"/>
<path d="M974,202 L974,194 C974,192.5 974.8,191.5 975,190 L975,187.5 L976.2,187.5 L976.2,190 C976.4,191.5 977.2,192.5 977.2,194 L977.2,202 Z"/>
</g><g id="diner" fill="#4a6ab3">
<circle cx="924.8" cy="174.6" r="7.8"/>
<path d="M914,192 C914,186 918,183.5 922,183.5 L926,183.5 C930,183.5 933,186 935,189 L941,195 L946,187.5 C947,186 949,186 950,187 C951,188 951,189.5 950,191 L944,201.5 C942.5,204 939.5,204.5 937.5,202.5 L931,196.5 L931,208.5 L940,208.5 C942.5,208.5 944,210.5 944,213 L944,232 C944,234 942.5,235.3 940.5,235.3 L939,235.3 C937,235.3 935.5,234 935.5,232 L935.5,216.5 L920,216.5 C916.5,216.5 914,214 914,210.5 Z"/>
<path d="M936,183.3 L950,189" stroke="#4a6ab3" stroke-width="1.6" fill="none"/>
<path d="M907.5,196.5 L910.5,196 L911.5,217.5 L928.5,217.5 L928.5,220.5 L911.8,220.5 L911.8,234.5 L908.8,234.5 Z"/>
<rect x="925.5" y="219" width="3" height="15.5"/>
<rect x="939.5" y="202.5" width="47.5" height="2.8"/>
<rect x="961" y="204" width="3" height="29"/>
<rect x="950.5" y="232.3" width="25.5" height="2.6"/>
<path d="M949.5,197 C949.5,193.5 951.5,192.8 953.5,193.6 C955.5,192.8 957.5,193.5 957.5,197 C957.5,200.5 955.5,202 953.5,202 C951.5,202 949.5,200.5 949.5,197 Z"/>
<path d="M959,197 C959,193.5 961,192.8 963,193.6 C965,192.8 967,193.5 967,197 C967,200.5 965,202 963,202 C961,202 959,200.5 959,197 Z"/>
<path d="M974,202 L974,194 C974,192.5 974.8,191.5 975,190 L975,187.5 L976.2,187.5 L976.2,190 C976.4,191.5 977.2,192.5 977.2,194 L977.2,202 Z"/>
</g></svg>
<!-- /ICONS -->

</body></html>
